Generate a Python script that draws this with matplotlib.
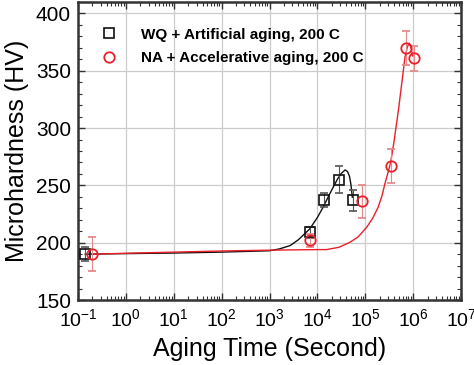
import numpy as np
import matplotlib
matplotlib.use("Agg")
import matplotlib.pyplot as plt
from matplotlib.ticker import LogLocator, MultipleLocator
from matplotlib.lines import Line2D

plt.rcParams['font.family'] = ['Liberation Sans', 'DejaVu Sans']
plt.rcParams['mathtext.default'] = 'regular'

# measured points (time in s, hardness in HV, +/- error)
wq_t = [0.14, 7000, 14000, 28000, 56000]
wq_hv = [190, 209, 237, 255, 237]
wq_err = [6, 5, 6, 12, 9]

na_t = [0.2, 7000, 87000, 340000, 700000, 1020000]
na_hv = [190, 202, 236, 267, 370, 361]
na_err = [15, 6, 14, 15, 15, 11]

# fitted curves (log10 time, HV)
wq_fit_logt = [-0.85, 0, 1, 2, 3, 3.2, 3.43, 3.6, 3.84, 4.0, 4.12, 4.25, 4.33,
               4.42, 4.5, 4.58, 4.63, 4.67, 4.70, 4.73]
wq_fit_hv = [190, 190.5, 191, 191.8, 193, 194.5, 197.5, 202.5, 212, 222, 231,
             242, 248.4, 255.5, 260.5, 263.5, 262, 258, 251, 239.7]

na_fit_logt = [-0.7, 0, 1, 2, 3, 4, 4.19, 4.45, 4.68, 4.85, 5.03, 5.15, 5.27,
               5.35, 5.41, 5.48, 5.53, 5.6, 5.7, 5.78, 5.83, 5.88, 5.92, 5.96, 5.99]
na_fit_hv = [190, 190.8, 191.8, 192.8, 193.5, 194, 194, 196, 200.4, 205, 213.5,
             221, 231, 241, 251.4, 262, 270, 288, 318, 345, 362, 371, 374, 369, 363]

labels = ['WQ + Artificial aging, 200 C', 'NA + Accelerative aging, 200 C']

fig = plt.figure(figsize=(4.74, 3.65), dpi=100)
ax = fig.add_axes([0.1646, 0.178, 0.808, 0.8165])

red = '#e8202a'
ax.plot(10 ** np.array(wq_fit_logt), wq_fit_hv, color='#111111', lw=1.0, zorder=3)
ax.plot(10 ** np.array(na_fit_logt), na_fit_hv, color=red, lw=1.0, zorder=3)

ax.errorbar(wq_t, wq_hv, yerr=wq_err, fmt='s', ms=7, mfc='none', mec='#111111',
            mew=1.2, ecolor='#555555', elinewidth=0.8, capsize=3, capthick=0.8,
            zorder=4)
ax.errorbar(na_t, na_hv, yerr=na_err, fmt='o', ms=7.5, mfc='none', mec=red,
            mew=1.3, ecolor='#e58a8a', elinewidth=0.8, capsize=3, capthick=0.8,
            zorder=4)

ax.set_xscale('log')
ax.set_xlim(1e-1, 1e7)
ax.set_ylim(150, 410)
ax.xaxis.set_major_locator(LogLocator(base=10, numticks=20))
ax.xaxis.set_minor_locator(LogLocator(base=10, subs=np.arange(2, 10), numticks=100))
ax.yaxis.set_major_locator(MultipleLocator(50))
ax.yaxis.set_minor_locator(MultipleLocator(10))

ax.grid(True, which='major', color='#cccccc', lw=0.9)
ax.set_axisbelow(True)
ax.tick_params(which='both', direction='in', top=True, right=True, color='#333333')
ax.tick_params(which='major', length=5, width=1, labelsize=15)
ax.tick_params(axis='x', which='major', labelsize=14, pad=6)
ax.tick_params(axis='y', which='major', pad=5)
ax.tick_params(which='minor', length=3, width=0.8)
for s in ax.spines.values():
    s.set_linewidth(1.8)
    s.set_color('#333333')

ax.set_xlabel('Aging Time (Second)', fontsize=18, labelpad=5)
ax.set_ylabel('Microhardness (HV)', fontsize=18, labelpad=5)

handles = [Line2D([], [], ls='none', marker='s', ms=7, mfc='none', mec='#111111', mew=1.2),
           Line2D([], [], ls='none', marker='o', ms=7.5, mfc='none', mec=red, mew=1.3)]
ax.legend(handles, labels, loc='upper left', bbox_to_anchor=(0.005, 0.97),
          frameon=False, numpoints=1,
          handletextpad=1.3, handlelength=1.6, borderaxespad=0.5, labelspacing=0.6,
          borderpad=0.6,
          prop={'family': ['Liberation Sans Narrow', 'Liberation Sans'],
                'weight': 'bold', 'size': 11})

fig.savefig('out.png', dpi=100)
